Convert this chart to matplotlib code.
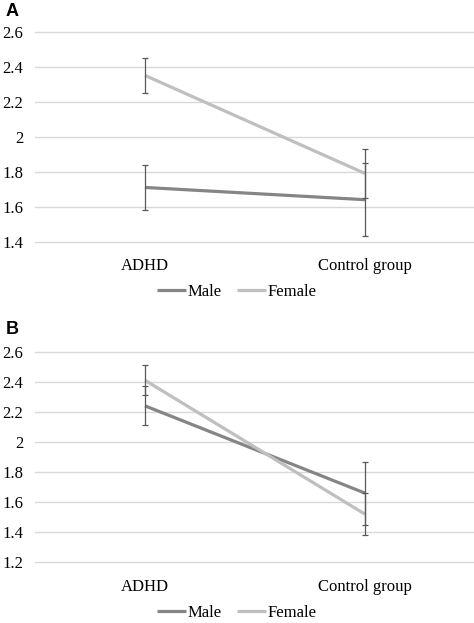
import matplotlib
matplotlib.use("Agg")
import matplotlib.pyplot as plt
import numpy as np

categories = ["ADHD", "Control group"]
series_names = ["Male", "Female"]

a_male = [1.71, 1.64]
a_male_err = [0.13, 0.21]
a_female = [2.35, 1.79]
a_female_err = [0.10, 0.14]

b_male = [2.24, 1.66]
b_male_err = [0.13, 0.21]
b_female = [2.41, 1.52]
b_female_err = [0.10, 0.14]

a_yticks = [1.4, 1.6, 1.8, 2.0, 2.2, 2.4, 2.6]
b_yticks = [1.2, 1.4, 1.6, 1.8, 2.0, 2.2, 2.4, 2.6]
ytick_labels_a = ["1.4", "1.6", "1.8", "2", "2.2", "2.4", "2.6"]
ytick_labels_b = ["1.2", "1.4", "1.6", "1.8", "2", "2.2", "2.4", "2.6"]

MALE_C = "#858585"
FEMALE_C = "#bfbfbf"
ERR_C = "#595959"
GRID_C = "#d9d9d9"
SERIF = "Liberation Serif"
FS = 12

fig = plt.figure(figsize=(4.74, 6.23), dpi=100)

def panel(rect, male, male_err, female, female_err, yticks, ylabels, letter, letter_y, legend_y):
    ax = fig.add_axes(rect)
    x = np.arange(len(categories))
    for yv in yticks:
        ax.axhline(yv, color=GRID_C, lw=1.0, zorder=0, clip_on=False)
    lm, = ax.plot(x, male, color=MALE_C, lw=2.3, solid_capstyle="butt", zorder=2, label=series_names[0])
    lf, = ax.plot(x, female, color=FEMALE_C, lw=2.3, solid_capstyle="butt", zorder=2, label=series_names[1])
    for vals, errs in ((male, male_err), (female, female_err)):
        ax.errorbar(x, vals, yerr=errs, fmt="none", ecolor=ERR_C, elinewidth=0.9,
                    capsize=2.2, capthick=0.9, zorder=3)
    ax.set_xlim(-0.5, 1.5)
    ax.set_ylim(yticks[0], yticks[-1])
    ax.set_yticks(yticks)
    ax.set_yticklabels(ylabels, fontfamily=SERIF, fontsize=FS)
    ax.set_xticks(x)
    ax.set_xticklabels(categories, fontfamily=SERIF, fontsize=FS)
    ax.tick_params(axis="y", length=0, pad=8.5)
    ax.tick_params(axis="x", length=0, pad=12)
    for s in ax.spines.values():
        s.set_visible(False)
    ax.set_facecolor("none")
    fig.text(0.012, letter_y, letter, fontsize=13, fontweight="bold",
             fontfamily="Liberation Sans", va="center", ha="left")
    fig.legend(handles=[lm, lf], loc="center", bbox_to_anchor=(0.5, legend_y), ncol=2,
               frameon=False, prop={"family": SERIF, "size": FS},
               handlelength=1.75, handletextpad=0.1, columnspacing=0.9)
    return ax

panel([35/474, 1 - 241.7/623, 440/474, 210/623], a_male, a_male_err, a_female, a_female_err,
      a_yticks, ytick_labels_a, "A", 1 - 11/623, 1 - 292/623)
panel([35/474, 1 - 562.3/623, 440/474, 210.6/623], b_male, b_male_err, b_female, b_female_err,
      b_yticks, ytick_labels_b, "B", 1 - 330/623, 1 - 613/623)

fig.savefig("out.png", dpi=100)
